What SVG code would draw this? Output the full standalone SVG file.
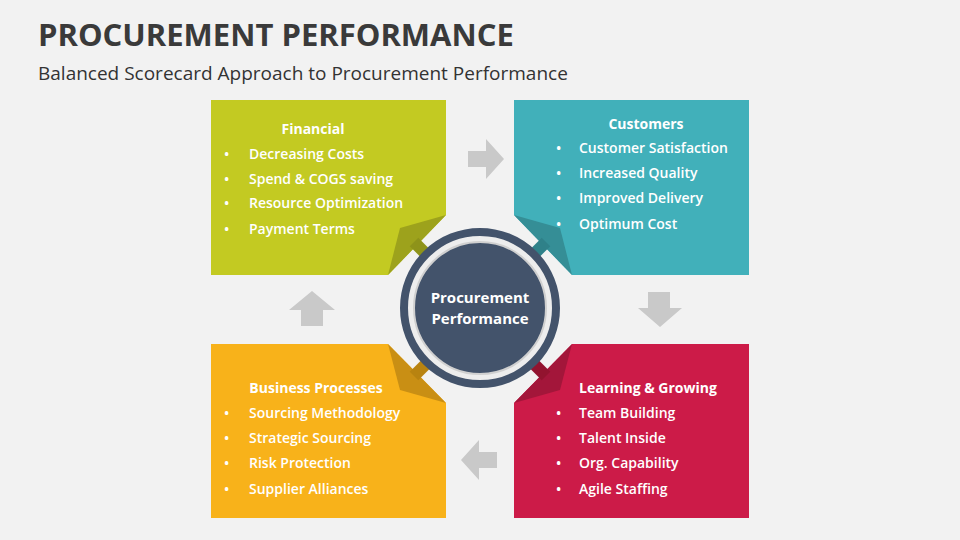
<svg xmlns="http://www.w3.org/2000/svg" width="960" height="540" viewBox="0 0 960 540">
<style>
text{font-family:"Open Sans","Liberation Sans",sans-serif}
.h{font-size:14px;font-weight:700;fill:#fff}
.b{font-size:14px;font-weight:600;fill:#fff}
.arr{fill:#C9C9C9}
</style>
<rect width="960" height="540" fill="#F2F2F2"/>
<text x="38" y="46" font-size="31" font-weight="700" fill="#3A3A3A">PROCUREMENT PERFORMANCE</text>
<text x="38" y="80" font-size="19" fill="#333">Balanced Scorecard Approach to Procurement Performance</text>
<g id="connectors">
<path class="arr" d="M468,151 h18 v-12 l18,20 l-18,20 v-12 h-18z"/>
<path class="arr" d="M648,292 h22 v16 h12 l-22,19 l-22,-19 h10z"/>
<path class="arr" d="M497,452 h-18 v-12 l-18,20 l18,20 v-12 h18z"/>
<path class="arr" d="M301,326 h22 v-16 h12 l-23,-19 l-23,19 h12z"/>
</g>
<g id="financial">
<path d="M211,100 H446 V215 L388,275 H211Z" fill="#C3CA22"/>
<path d="M446,215 L400,228 L388,275Z" fill="#9DA21C"/>
<line x1="414" y1="242" x2="434" y2="262" stroke="#8E931A" stroke-width="12"/>
<text class="h" x="313" y="134" text-anchor="middle">Financial</text>
<g class="b"><text x="224" y="159">•</text><text x="249" y="159">Decreasing Costs</text>
<text x="224" y="184">•</text><text x="249" y="184">Spend &amp; COGS saving</text>
<text x="224" y="208">•</text><text x="249" y="208">Resource Optimization</text>
<text x="224" y="234">•</text><text x="249" y="234">Payment Terms</text></g>
</g>
<g id="customers">
<path d="M514,100 H749 V275 H572 L514,215Z" fill="#41B0BA"/>
<path d="M514,215 L560,228 L572,275Z" fill="#358E96"/>
<line x1="546" y1="242" x2="526" y2="262" stroke="#2F8189" stroke-width="12"/>
<text class="h" x="646" y="129" text-anchor="middle">Customers</text>
<g class="b"><text x="556" y="153">•</text><text x="579" y="153">Customer Satisfaction</text>
<text x="556" y="178">•</text><text x="579" y="178">Increased Quality</text>
<text x="556" y="203">•</text><text x="579" y="203">Improved Delivery</text>
<text x="556" y="229">•</text><text x="579" y="229">Optimum Cost</text></g>
</g>
<g id="learning">
<path d="M572,344 H749 V518 H514 V403Z" fill="#CC1B48"/>
<path d="M514,403 L560,390 L572,344Z" fill="#A3163A"/>
<line x1="546" y1="376" x2="526" y2="356" stroke="#92132F" stroke-width="12"/>
<text class="h" x="579" y="393">Learning &amp; Growing</text>
<g class="b"><text x="556" y="418">•</text><text x="579" y="418">Team Building</text>
<text x="556" y="443">•</text><text x="579" y="443">Talent Inside</text>
<text x="556" y="468">•</text><text x="579" y="468">Org. Capability</text>
<text x="556" y="494">•</text><text x="579" y="494">Agile Staffing</text></g>
</g>
<g id="business">
<path d="M211,344 H388 L446,403 V518 H211Z" fill="#F8B21A"/>
<path d="M446,403 L400,390 L388,344Z" fill="#C98F14"/>
<line x1="414" y1="376" x2="434" y2="356" stroke="#B88310" stroke-width="12"/>
<text class="h" x="316" y="393" text-anchor="middle">Business Processes</text>
<g class="b"><text x="224" y="418">•</text><text x="249" y="418">Sourcing Methodology</text>
<text x="224" y="443">•</text><text x="249" y="443">Strategic Sourcing</text>
<text x="224" y="468">•</text><text x="249" y="468">Risk Protection</text>
<text x="224" y="494">•</text><text x="249" y="494">Supplier Alliances</text></g>
</g>
<g id="center">
<circle cx="480" cy="308" r="76" fill="#EDEDED" stroke="#43536B" stroke-width="8"/>
<circle cx="480" cy="308" r="66" fill="#43536B" stroke="#D0D0D0" stroke-width="2"/>
<text x="480" y="303" text-anchor="middle" font-size="15" font-weight="700" fill="#fff">Procurement</text>
<text x="480" y="324" text-anchor="middle" font-size="15" font-weight="700" fill="#fff">Performance</text>
</g>
</svg>
